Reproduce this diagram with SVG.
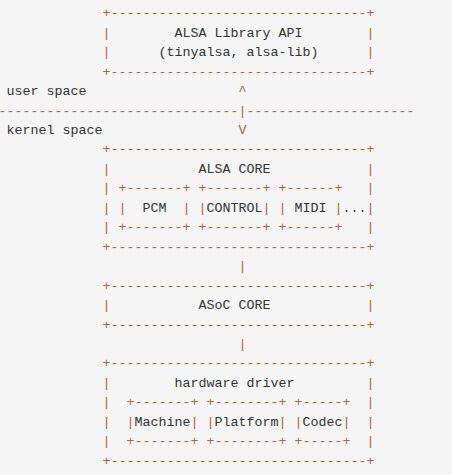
<svg xmlns="http://www.w3.org/2000/svg" width="452" height="475" viewBox="0 0 452 475">
<style>
text{font-family:"Liberation Mono","DejaVu Sans Mono",monospace;font-size:13.333px;white-space:pre;fill:#333333}
.o{fill:#b9622a}
</style>
<rect x="0" y="0" width="452" height="475" fill="#f5f5f5"/>

<g id="alsa-library-api">
<text x="102.5" y="17.3" class="o" xml:space="preserve">+--------------------------------+</text>
<text x="102.5" y="36.75" xml:space="preserve"><tspan class="o">|</tspan>        ALSA Library API        <tspan class="o">|</tspan></text>
<text x="102.5" y="56.2" xml:space="preserve"><tspan class="o">|</tspan>      (tinyalsa, alsa-lib)      <tspan class="o">|</tspan></text>
<text x="102.5" y="75.65" class="o" xml:space="preserve">+--------------------------------+</text>
</g>

<g id="space-boundary">
<text x="6.5" y="95.1" xml:space="preserve">user space</text>
<text x="-1.5" y="114.55" class="o" xml:space="preserve">------------------------------</text>
<text x="246.5" y="114.55" class="o" xml:space="preserve">---------------------</text>
<text x="6.5" y="134" xml:space="preserve">kernel space</text>
</g>

<g id="alsa-core">
<text x="102.5" y="153.45" class="o" xml:space="preserve">+--------------------------------+</text>
<text x="102.5" y="172.9" xml:space="preserve"><tspan class="o">|</tspan>           ALSA CORE            <tspan class="o">|</tspan></text>
<text x="102.5" y="192.35" class="o" xml:space="preserve">| +-------+ +-------+ +------+   |</text>
<g id="pcm"><text x="118.5" y="211.8" xml:space="preserve"><tspan class="o">|</tspan>  PCM  <tspan class="o">|</tspan></text></g>
<g id="control"><text x="198.5" y="211.8" xml:space="preserve"><tspan class="o">|</tspan>CONTROL<tspan class="o">|</tspan></text></g>
<g id="midi"><text x="278.5" y="211.8" xml:space="preserve"><tspan class="o">|</tspan> MIDI <tspan class="o">|</tspan>...<tspan class="o">|</tspan></text></g>
<text x="102.5" y="211.8" class="o" xml:space="preserve">|</text>
<text x="102.5" y="231.25" class="o" xml:space="preserve">| +-------+ +-------+ +------+   |</text>
<text x="102.5" y="250.7" class="o" xml:space="preserve">+--------------------------------+</text>
</g>

<g id="asoc-core">
<text x="102.5" y="289.6" class="o" xml:space="preserve">+--------------------------------+</text>
<text x="102.5" y="309.05" xml:space="preserve"><tspan class="o">|</tspan>           ASoC CORE            <tspan class="o">|</tspan></text>
<text x="102.5" y="328.5" class="o" xml:space="preserve">+--------------------------------+</text>
</g>

<g id="hardware-driver">
<text x="102.5" y="367.4" class="o" xml:space="preserve">+--------------------------------+</text>
<text x="102.5" y="386.85" xml:space="preserve"><tspan class="o">|</tspan>        hardware driver         <tspan class="o">|</tspan></text>
<text x="102.5" y="406.3" class="o" xml:space="preserve">|  +-------+ +--------+ +-----+  |</text>
<text x="102.5" y="425.75" class="o" xml:space="preserve">|</text>
<g id="machine"><text x="126.5" y="425.75" xml:space="preserve"><tspan class="o">|</tspan>Machine<tspan class="o">|</tspan></text></g>
<g id="platform"><text x="206.5" y="425.75" xml:space="preserve"><tspan class="o">|</tspan>Platform<tspan class="o">|</tspan></text></g>
<g id="codec"><text x="294.5" y="425.75" xml:space="preserve"><tspan class="o">|</tspan>Codec<tspan class="o">|</tspan></text></g>
<text x="366.5" y="425.75" class="o" xml:space="preserve">|</text>
<text x="102.5" y="445.2" class="o" xml:space="preserve">|  +-------+ +--------+ +-----+  |</text>
<text x="102.5" y="464.65" class="o" xml:space="preserve">+--------------------------------+</text>
</g>

<g id="connectors">
<text x="238.5" y="95.1" class="o">^</text>
<text x="238.5" y="114.55" class="o">|</text>
<text x="238.5" y="134" class="o">V</text>
<text x="238.5" y="270.15" class="o">|</text>
<text x="238.5" y="348.05" class="o">|</text>
</g>
</svg>
